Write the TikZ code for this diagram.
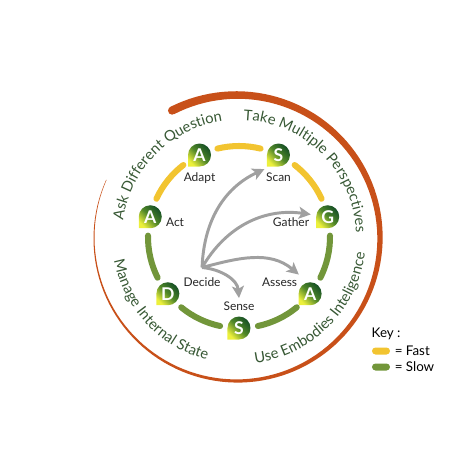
\documentclass[tikz,border=0pt]{standalone}
\usepackage{fontspec}
\setmainfont{Lato}
\usetikzlibrary{positioning,calc,decorations.text,arrows.meta,backgrounds}

\definecolor{fastring}{RGB}{242,196,48}
\definecolor{slowring}{RGB}{114,150,58}
\definecolor{outerarc}{RGB}{200,80,25}
\definecolor{leafdark}{RGB}{22,80,38}
\definecolor{leafmid}{RGB}{80,135,40}
\definecolor{leaflight}{RGB}{236,240,60}
\definecolor{phasetext}{RGB}{55,88,52}
\definecolor{flowgray}{RGB}{160,160,160}

\newcommand{\phasefont}{\fontsize{10.5}{12}\selectfont}

\tikzset{
  ring/.style={line width=4.3pt, line cap=round},
  leaf/.style={top color=leafdark, bottom color=leaflight, middle color=leafmid, shading angle=-45},
  letter/.style={circle, minimum size=0.55cm, inner sep=0pt, text=white, font=\fontsize{12.5}{14}\selectfont\bfseries},
  lbl/.style={inner sep=1pt, text height=1.5ex, text depth=.25ex, text=black!85, font=\fontsize{8.5}{10}\selectfont},
  flow/.style={flowgray, line width=2.1pt, -{Stealth[length=8.5pt,width=8.5pt,inset=2pt]}},
  keytext/.style={inner sep=1pt, font=\fontsize{9.5}{11}\selectfont},
  keypill/.style={minimum width=0.45cm, minimum height=0.175cm, inner sep=0pt, rounded corners=0.0875cm}
}

\begin{document}
\begin{tikzpicture}[x=0.025cm,y=0.025cm]
    \useasboundingbox (-239,-237) rectangle (235,237);
    % outer arc
    \begin{scope}[shift={(-2,-1)}]
        \fill[outerarc] plot[domain=117:-204,samples=120] (\x:{143+0.5*(8.2-7.8*(117-(\x))/321)})
            -- plot[domain=-204:117,samples=120] (\x:{143-0.5*(8.2-7.8*(117-(\x))/321)}) -- cycle;
        \fill[outerarc] (117:143) circle (4.1);
    \end{scope}
    % phase texts
    \path[decorate,decoration={text along path,text align=center,text color=phasetext,
        text={|\phasefont|Ask Different Question}}] (180:117) arc (180:90:117);
    \path[decorate,decoration={text along path,text align=center,text color=phasetext,
        text={|\phasefont|Take Multiple Perspectives}}] (90:117) arc (90:0:117);
    \path[decorate,decoration={text along path,text align=center,text color=phasetext,
        text={|\phasefont|Manage Internal State}}] (178:127) arc (178:268:127);
    \path[decorate,decoration={text along path,text align=center,text color=phasetext,
        text={|\phasefont|Use Embodies Inteligence}}] (270:127) arc (270:360:127);
    % fast ring
    \draw[ring,fastring] (127.71:91) arc (127.71:155.14:91);
    \draw[ring,fastring] (76.29:91) arc (76.29:103.71:91);
    \draw[ring,fastring] (24.86:91) arc (24.86:52.29:91);
    % slow ring
    \draw[ring,slowring] (-26.57:91) arc (-26.57:0.86:91);
    \draw[ring,slowring] (-78:91) arc (-78:-50.57:91);
    \draw[ring,slowring] (230.57:91) arc (230.57:258:91);
    \draw[ring,slowring] (179.14:91) arc (179.14:206.57:91);
    % steps
    \node[letter] (sense) at (-90:91) {S};
    \node[letter] (assess) at (-38.57:91) {A};
    \node[letter] (gather) at (12.86:91) {G};
    \node[letter] (scan) at (64.29:91) {S};
    \node[letter] (adapt) at (115.71:91) {A};
    \node[letter] (act) at (167.14:91) {A};
    \node[letter] (decide) at (218.57:91) {D};
    \begin{pgfonlayer}{background}
        \foreach \n in {sense,assess,gather,scan,adapt,act,decide}
            \shade[leaf] (\n.center) ++(0,-11.5) arc (-90:180:11.5) -- ++(0,-11.5) -- cycle;
    \end{pgfonlayer}
    \node[lbl, above=2pt of sense] (sensel) {Sense};
    \node[lbl, left=0pt of assess, yshift=8pt] (assessl) {Assess};
    \node[lbl, left=4pt of gather, yshift=-4pt] (gatherl) {Gather};
    \node[lbl, below=2pt of scan] (scanl) {Scan};
    \node[lbl, below=2pt of adapt] (adaptl) {Adapt};
    \node[lbl, right=2pt of act, yshift=-4pt] (actl) {Act};
    \node[lbl, right=2pt of decide, yshift=8pt] (decidel) {Decide};
    % decide arrows
    \coordinate[above=5pt of decidel] (hub);
    \draw[flow] (hub) to[out=88,in=205] (scanl.north west);
    \draw[flow] (hub) to[out=60,in=172] (gatherl.north east);
    \draw[flow] (hub) to[out=15,in=140] (assessl.north east);
    \draw[flow] (hub) to[out=-5,in=95] (sensel.north);
    % key
    \node[keytext, anchor=west] (key) at (131,-97) {Key :};
    \node[keypill, fill=fastring] (fastpill) at (142,-114) {};
    \node[keytext, right=2pt of fastpill] (fastkey) {= Fast};
    \node[keypill, fill=slowring] (slowpill) at (142,-130) {};
    \node[keytext, right=2pt of slowpill] (slowkey) {= Slow};
\end{tikzpicture}
\end{document}
